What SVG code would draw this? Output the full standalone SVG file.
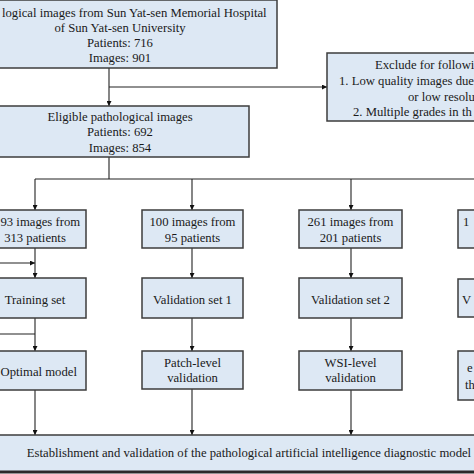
<svg xmlns="http://www.w3.org/2000/svg" width="474" height="474" viewBox="0 0 474 474">
<defs>
<style>
.box{fill:#dde8f4;stroke:#3c3c3c;stroke-width:1.5}
.t{font-family:"Liberation Serif","Times New Roman",serif;font-size:12.7px;fill:#1a1a1a;text-anchor:middle}
.s{text-anchor:start}
.e{text-anchor:end}
.ln{fill:none;stroke:#222;stroke-width:1.1}
</style>
<marker id="ah" viewBox="0 0 10 10" refX="10" refY="5" markerWidth="5" markerHeight="5" orient="auto" markerUnits="userSpaceOnUse">
<path d="M0,0 L10,5 L0,10 z" fill="#111"/>
</marker>
</defs>
<rect width="474" height="474" fill="#fff"/>
<g id="connectors">
<path class="ln" d="M109,68 V106" marker-end="url(#ah)"/>
<path class="ln" d="M109,87 H327" marker-end="url(#ah)"/>
<path class="ln" d="M109,157 V179 M35,179 H474"/>
<path class="ln" d="M35,179 V210" marker-end="url(#ah)"/>
<path class="ln" d="M192,179 V210" marker-end="url(#ah)"/>
<path class="ln" d="M351,179 V210" marker-end="url(#ah)"/>
<path class="ln" d="M35,248 V278" marker-end="url(#ah)"/>
<path class="ln" d="M0,263 H35" marker-end="url(#ah)"/>
<path class="ln" d="M192,248 V278" marker-end="url(#ah)"/>
<path class="ln" d="M351,248 V278" marker-end="url(#ah)"/>
<path class="ln" d="M0,334 H35"/>
<path class="ln" d="M35,318 V351" marker-end="url(#ah)"/>
<path class="ln" d="M192,318 V351" marker-end="url(#ah)"/>
<path class="ln" d="M351,318 V351" marker-end="url(#ah)"/>
<path class="ln" d="M35,390 V435" marker-end="url(#ah)"/>
<path class="ln" d="M192,389 V435" marker-end="url(#ah)"/>
<path class="ln" d="M351,390 V435" marker-end="url(#ah)"/>
</g>
<g id="source">
<rect class="box" x="-37" y="0" width="314" height="68"/>
<text class="t s" x="2" y="17">logical images from Sun Yat-sen Memorial Hospital</text>
<text class="t" x="120" y="32">of Sun Yat-sen University</text>
<text class="t" x="120" y="47">Patients: 716</text>
<text class="t" x="120" y="62">Images: 901</text>
</g>
<g id="exclude">
<rect class="box" x="327" y="53" width="160" height="68"/>
<text class="t s" x="375" y="69">Exclude for followi</text>
<text class="t s" x="339" y="85">1. Low quality images due</text>
<text class="t s" x="408" y="101">or low resolu</text>
<text class="t s" x="353" y="116">2. Multiple grades in th</text>
</g>
<g id="eligible">
<rect class="box" x="-9" y="106" width="258" height="51"/>
<text class="t" x="120" y="121">Eligible pathological images</text>
<text class="t" x="120" y="136">Patients: 692</text>
<text class="t" x="120" y="152">Images: 854</text>
</g>
<g id="set1">
<rect class="box" x="-16" y="210" width="102" height="38"/>
<text class="t s" x="0.5" y="226">93 images from</text>
<text class="t" x="35" y="242">313 patients</text>
</g>
<g id="set2">
<rect class="box" x="142" y="210" width="101" height="38"/>
<text class="t" x="192.5" y="226">100 images from</text>
<text class="t" x="192.5" y="242">95 patients</text>
</g>
<g id="set3">
<rect class="box" x="299" y="210" width="103" height="38"/>
<text class="t" x="350.5" y="226">261 images from</text>
<text class="t" x="350.5" y="242">201 patients</text>
</g>
<g id="set4">
<rect class="box" x="458" y="210" width="40" height="38"/>
<text class="t s" x="463" y="226">1</text>
</g>
<g id="training">
<rect class="box" x="-16" y="278" width="102" height="40"/>
<text class="t" x="35" y="304">Training set</text>
</g>
<g id="val1">
<rect class="box" x="142" y="278" width="101" height="40"/>
<text class="t" x="192.5" y="304">Validation set 1</text>
</g>
<g id="val2">
<rect class="box" x="299" y="278" width="103" height="40"/>
<text class="t" x="350.5" y="304">Validation set 2</text>
</g>
<g id="val3">
<rect class="box" x="458" y="279" width="40" height="38"/>
<text class="t s" x="462" y="304">V</text>
</g>
<g id="optimal">
<rect class="box" x="-16" y="351" width="102" height="39"/>
<text class="t s" x="0.5" y="376">Optimal model</text>
</g>
<g id="patch">
<rect class="box" x="142" y="351" width="101" height="38"/>
<text class="t" x="192.5" y="367">Patch-level</text>
<text class="t" x="192.5" y="382">validation</text>
</g>
<g id="wsi">
<rect class="box" x="299" y="351" width="103" height="39"/>
<text class="t" x="350.5" y="367">WSI-level</text>
<text class="t" x="350.5" y="382">validation</text>
</g>
<g id="col4row3">
<rect class="box" x="458" y="351" width="40" height="49"/>
<text class="t s" x="467" y="372">e</text>
<text class="t s" x="465" y="389">th</text>
</g>
<g id="final">
<rect class="box" x="-2" y="435" width="478" height="37"/>
<path d="M0,472 H474" stroke="#2a2a2a" stroke-width="3"/>
<text class="t" x="249" y="457">Establishment and validation of the pathological artificial intelligence diagnostic model</text>
</g>
</svg>
